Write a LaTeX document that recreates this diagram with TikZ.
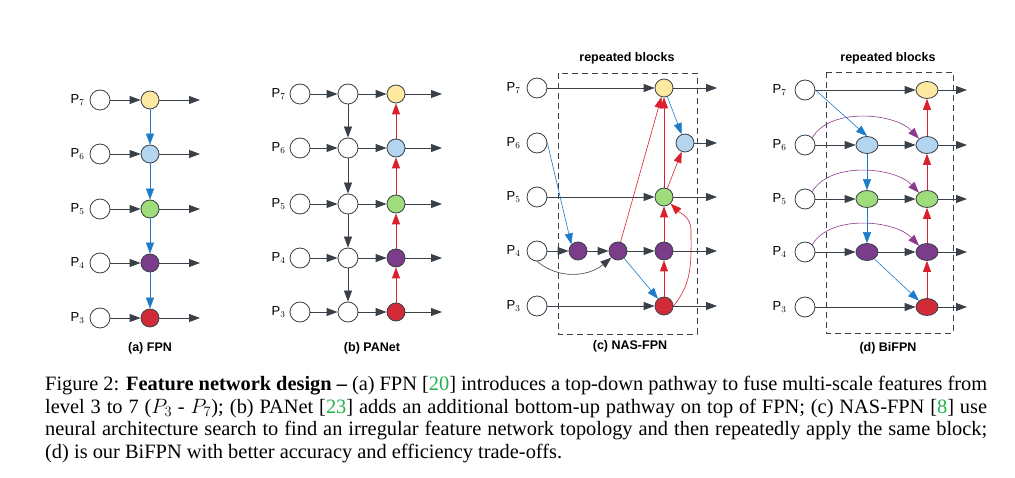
\documentclass[tikz,border=0pt]{standalone}
\usepackage{fontspec}
\setmainfont{Liberation Serif}
\newfontfamily\figsans{Liberation Sans}
\usetikzlibrary{arrows.meta,positioning,shapes.geometric}
\definecolor{cyel}{HTML}{FFE8A0}
\definecolor{cblu}{HTML}{B3D5EF}
\definecolor{cgrn}{HTML}{9FDC7C}
\definecolor{cpur}{HTML}{7B3C8A}
\definecolor{cred}{HTML}{D22B38}
\definecolor{ablu}{HTML}{1E7BC8}
\definecolor{ared}{HTML}{D9202C}
\definecolor{apur}{HTML}{8A3A8C}
\definecolor{cgry}{HTML}{3A4048}
\definecolor{refg}{HTML}{22B24C}
\begin{document}
\begin{tikzpicture}
  [
   x=1pt,y=-1pt,
   font=\figsans\fontsize{13}{15}\selectfont,
   tip/.style={-{Triangle[length=11pt,width=8pt]}},
   pin/.style={circle,draw=cgry,thick,fill=white,minimum size=20pt,inner sep=0pt},
   fn/.style={circle,draw=cgry,thick,minimum size=18pt,inner sep=0pt},
   en/.style={ellipse,draw=cgry,thick,minimum width=22pt,minimum height=17pt,inner sep=0pt},
   ge/.style={tip,draw=cgry,thick},
   be/.style={tip,draw=ablu,semithick},
   re/.style={tip,draw=ared,thick},
   pe/.style={tip,draw=apur,semithick},
   lab/.style={font=\figsans\bfseries\fontsize{12.5}{15}\selectfont},
   box/.style={draw=cgry,thick,dash pattern=on 6pt off 4pt}
  ]
  \useasboundingbox (0,0) rectangle (1015,478);
  % (a) FPN
  \foreach \l/\y/\c in {7/100/cyel,6/154/cblu,5/209/cgrn,4/263/cpur,3/318/cred}{
    \node[pin] (a\l) at (100,\y) {};
    \node[anchor=east] at (88,\y) {P$_{\l}$};
    \node[fn,fill=\c] (af\l) at (150,\y) {};
    \coordinate (ao\l) at (200,\y);
    \draw[ge] (a\l) -- (af\l);
    \draw[ge] (af\l) -- (ao\l);
  }
  \foreach \u/\d in {7/6,6/5,5/4,4/3} \draw[be] (af\u) -- (af\d);
  \node[lab] at (150,348) {(a) FPN};
  % (b) PANet
  \foreach \l/\y/\c in {7/94/cyel,6/148/cblu,5/204/cgrn,4/258/cpur,3/312/cred}{
    \node[pin] (b\l) at (300,\y) {};
    \node[anchor=east] at (289,\y) {P$_{\l}$};
    \node[pin] (bm\l) at (348,\y) {};
    \node[fn,fill=\c] (bf\l) at (396,\y) {};
    \coordinate (bo\l) at (442,\y);
    \draw[ge] (b\l) -- (bm\l);
    \draw[ge] (bm\l) -- (bf\l);
    \draw[ge] (bf\l) -- (bo\l);
  }
  \foreach \u/\d in {7/6,6/5,5/4,4/3} {
    \draw[ge] (bm\u) -- (bm\d);
    \draw[re] (bf\d) -- (bf\u);
  }
  \node[lab] at (372,348) {(b) PANet};
  % (c) NAS-FPN
  \draw[box] (558,73) rectangle (697,334);
  \node[lab] at (627,58) {repeated blocks};
  \foreach \l/\y in {7/88,6/143,5/197,4/251,3/306}{
    \node[pin] (c\l) at (537,\y) {};
    \node[anchor=east] at (524,\y) {P$_{\l}$};
    \coordinate (co\l) at (717,\y);
  }
  \node[fn,fill=cyel] (cy) at (664,88) {};
  \node[fn,fill=cblu] (cb) at (685,143) {};
  \node[fn,fill=cgrn] (cg) at (664,197) {};
  \node[fn,fill=cpur] (cp1) at (578,251) {};
  \node[fn,fill=cpur] (cp2) at (618,251) {};
  \node[fn,fill=cpur] (cp3) at (664,251) {};
  \node[fn,fill=cred] (cr) at (664,306) {};
  \draw[ge] (c7) -- (cy);
  \draw[ge] (c5) -- (cg);
  \draw[ge] (c3) -- (cr);
  \draw[ge] (c4) -- (cp1);
  \draw[ge] (cp1) -- (cp2);
  \draw[ge] (cp2) -- (cp3);
  \draw[ge,semithick] (c4.south) to[out=-40,in=-140] (cp2.south west);
  \draw[be] (c6.east) -- (cp1.north west);
  \draw[be] (cp2) -- (cr);
  \draw[be] (cy) -- (cb);
  \draw[re,semithick] (cp2) -- (cy);
  \draw[re] (cr) -- (cp3);
  \draw[re] (cp3) -- (cg);
  \draw[re] (cg) -- (cy);
  \draw[re,semithick] (cg) -- (cb);
  \draw[re,semithick] (cr.east) to[out=50,in=-90] (691,230) to[out=90,in=-45] (cg.south east);
  \foreach \n/\l in {cy/7,cb/6,cg/5,cp3/4,cr/3} \draw[ge] (\n) -- (co\l);
  \node[lab] at (630,346) {(c) NAS-FPN};
  % (d) BiFPN
  \draw[box] (826,72) rectangle (953,333);
  \node[lab] at (888,58) {repeated blocks};
  \foreach \l/\y/\c in {7/90/cyel,6/145/cblu,5/199/cgrn,4/252/cpur,3/307/cred}{
    \node[pin] (d\l) at (805,\y) {};
    \node[anchor=east] at (790,\y) {P$_{\l}$};
    \node[en,fill=\c] (dr\l) at (927,\y) {};
    \coordinate (do\l) at (967,\y);
    \draw[ge] (dr\l) -- (do\l);
  }
  \foreach \l/\y/\c in {6/145/cblu,5/199/cgrn,4/252/cpur}{
    \node[en,fill=\c] (dm\l) at (867,\y) {};
    \draw[ge] (d\l) -- (dm\l);
    \draw[ge] (dm\l) -- (dr\l);
    \draw[pe] (d\l.north east) .. controls (830,\y-38) and (895,\y-32) .. (dr\l.north west);
  }
  \draw[ge] (d7) -- (dr7);
  \draw[ge] (d3) -- (dr3);
  \draw[be] (d7.east) -- (dm6.north);
  \draw[be] (dm6) -- (dm5);
  \draw[be] (dm5) -- (dm4);
  \draw[be] (dm4) -- (dr3.north west);
  \foreach \d/\u in {3/4,4/5,5/6,6/7} \draw[re] (dr\d) -- (dr\u);
  \node[lab] at (888,348) {(d) BiFPN};
  % caption
  \node[anchor=north west,text width=942pt,align=justify,inner sep=0pt,
        font=\rmfamily\fontsize{20.4}{22.6}\selectfont] (cap) at (45,376)
  {Figure 2: \textbf{Feature network design --} (a) FPN [\textcolor{refg}{20}] introduces a top-down pathway to fuse multi-scale features from level 3 to 7 ($P_3$ - $P_7$); (b) PANet [\textcolor{refg}{23}] adds an additional bottom-up pathway on top of FPN; (c) NAS-FPN [\textcolor{refg}{8}] use neural architecture search to find an irregular feature network topology and then repeatedly apply the same block; (d) is our BiFPN with better accuracy and efficiency trade-offs.};
\end{tikzpicture}
\end{document}
